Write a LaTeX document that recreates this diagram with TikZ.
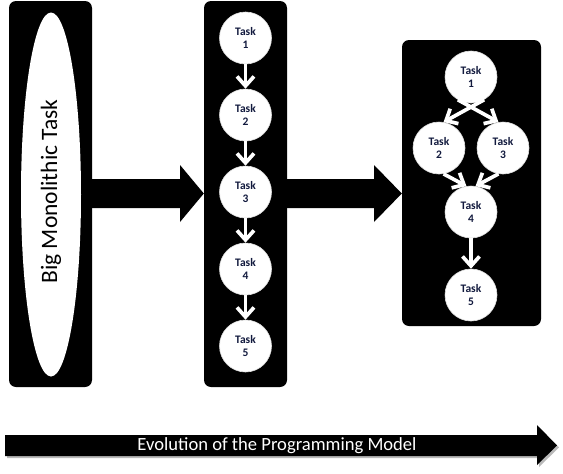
\documentclass[tikz,border=0pt]{standalone}
\usepackage{fontspec}
\setmainfont{Carlito}
\usetikzlibrary{arrows.meta,shapes.geometric,calc}
\definecolor{tasknavy}{RGB}{18,26,62}
\begin{document}
\begin{tikzpicture}[x=1pt,y=-1pt,
  panel/.style={fill=black,rounded corners=7pt,inner sep=0pt},
  task/.style={circle,fill=white,draw=gray!25,line width=0.6pt,minimum size=52pt,inner sep=0pt,
    align=center,text=tasknavy,font=\bfseries\fontsize{11.5}{13.5}\selectfont},
  warr/.style={draw=white,line width=3.7pt,-{Straight Barb[length=9.5pt,width=17pt]}},
  bigarr/.style={fill=black}]
\useasboundingbox (0,0) rectangle (563,474);
% panels
\node[panel,minimum width=83pt,minimum height=386pt] (lbox) at (50.5,194) {};
\node[panel,minimum width=83pt,minimum height=386pt] (mbox) at (245.5,194) {};
\node[panel,minimum width=139pt,minimum height=286pt] (rbox) at (471.5,183) {};
% monolithic task
\node[ellipse,fill=white,minimum width=60pt,minimum height=364pt,inner sep=0pt] (mono) at (51,194.5) {};
\node[rotate=90,font=\fontsize{23.5}{26}\selectfont] (monotxt) at (51,191.5) {Big Monolithic Task};
% big arrows between panels
\fill[bigarr] (lbox.east |- 0,179) -- (180,179) -- (180,165) -- (mbox.west |- 0,193.5)
  -- (180,222) -- (180,208) -- (lbox.east |- 0,208) -- cycle;
\fill[bigarr] (mbox.east |- 0,179) -- (374,179) -- (374,165) -- (rbox.west |- 0,193.5)
  -- (374,222) -- (374,208) -- (mbox.east |- 0,208) -- cycle;
% sequential tasks
\node[task] (m1) at (245.5,38) {Task\\1};
\node[task] (m2) at (245.5,115) {Task\\2};
\node[task] (m3) at (245.5,192) {Task\\3};
\node[task] (m4) at (245.5,269) {Task\\4};
\node[task] (m5) at (245.5,346) {Task\\5};
\draw[warr] (m1.south) -- (m2.north);
\draw[warr] (m2.south) -- (m3.north);
\draw[warr] (m3.south) -- (m4.north);
\draw[warr] (m4.south) -- (m5.north);
% parallel tasks
\node[task] (r1) at (471,77) {Task\\1};
\node[task] (r2) at (439,148) {Task\\2};
\node[task] (r3) at (503,148) {Task\\3};
\node[task] (r4) at (471,212) {Task\\4};
\node[task] (r5) at (471,295) {Task\\5};
\draw[warr] (r1.-60) -- (r2.80);
\draw[warr] (r1.-120) -- (r3.100);
\draw[warr] (r2.-80) -- (r4.100);
\draw[warr] (r3.-100) -- (r4.80);
\draw[warr] (r4.south) -- (r5.north);
% evolution arrow
\fill[gray!55] (7,437) -- (539,437) -- (539,427) -- (559,447.5) -- (539,467) -- (539,458) -- (7,458) -- cycle;
\fill[black] (5,435) -- (537,435) -- (537,425) -- (557,445.5) -- (537,465) -- (537,456) -- (5,456) -- cycle;
\node[text=white,font=\fontsize{18.6}{22}\selectfont] (evo) at (277,445.5) {Evolution of the Programming Model};
\end{tikzpicture}
\end{document}
